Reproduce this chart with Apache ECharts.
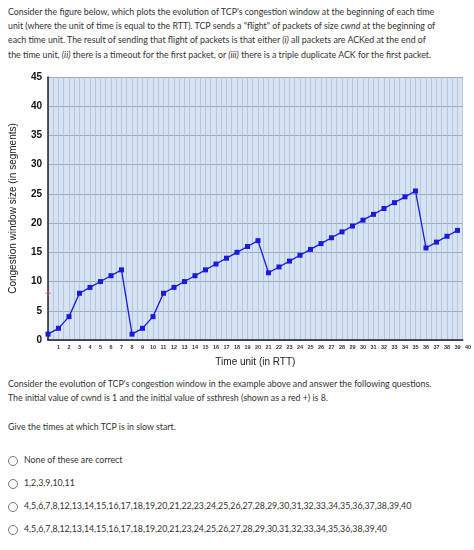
<!DOCTYPE html><html><head><meta charset="utf-8">
<script src="https://cdn.jsdelivr.net/npm/echarts@6/dist/echarts.min.js"></script>
<style>
body{margin:0;width:474px;height:550px;font-family:Lato,sans-serif;color:#333;font-size:8.8px;background:#fff;position:relative;overflow:hidden}
.t{position:absolute;left:8px;line-height:14.2px;white-space:nowrap}
.o{position:absolute;left:8px;white-space:nowrap}
.o span{display:inline-block;width:8px;height:8px;border:1px solid #777;border-radius:50%;vertical-align:middle;margin-right:6px}
#c{position:absolute;left:0;top:70px;width:474px;height:302px}
</style></head><body>
<div class="t" style="top:5px">Consider the figure below, which plots the evolution of TCP's congestion window at the beginning of each time<br>unit (where the unit of time is equal to the RTT). TCP sends a "flight" of packets of size <i>cwnd</i> at the beginning of<br>each time unit. The result of sending that flight of packets is that either <i>(i)</i> all packets are ACKed at the end of<br>the time unit, <i>(ii)</i> there is a timeout for the first packet, or <i>(iii)</i> there is a triple duplicate ACK for the first packet.</div>
<div id="c"></div>
<div class="t" style="top:377px">Consider the evolution of TCP's congestion window in the example above and answer the following questions.<br>The initial value of cwnd is 1 and the initial value of ssthresh (shown as a red +) is 8.</div>
<div class="t" style="top:420px">Give the times at which TCP is in slow start.</div>
<div class="o" style="top:454px"><span></span>None of these are correct</div>
<div class="o" style="top:477px"><span></span>1,2,3,9,10,11</div>
<div class="o" style="top:500px"><span></span>4,5,6,7,8,12,13,14,15,16,17,18,19,20,21,22,23,24,25,26,27,28,29,30,31,32,33,34,35,36,37,38,39,40</div>
<div class="o" style="top:523px"><span></span>4,5,6,7,8,12,13,14,15,16,17,18,19,20,21,23,24,25,26,27,28,29,30,31,32,33,34,35,36,38,39,40</div>
<script>
const times=[1,2,3,4,5,6,7,8,9,10,11,12,13,14,15,16,17,18,19,20,21,22,23,24,25,26,27,28,29,30,31,32,33,34,35,36,37,38,39,40];
const cwnd=[1,2,4,8,9,10,11,12,1,2,4,8,9,10,11,12,13,14,15,16,17,11.5,12.5,13.5,14.5,15.5,16.5,17.5,18.5,19.5,20.5,21.5,22.5,23.5,24.5,25.5,15.75,16.75,17.75,18.75];
const ssthresh=8;
const yTicks=[0,5,10,15,20,25,30,35,40,45];
const c=echarts.init(document.getElementById('c'));
c.setOption({
 animation:false,
 grid:{left:45,right:11,top:7,bottom:30,show:true,backgroundColor:'#d5e3f4',borderWidth:0},
 xAxis:{type:'value',min:0,max:39.5,interval:1,
  name:'Time unit (in RTT)',nameLocation:'middle',nameGap:17,nameTextStyle:{fontSize:10,color:'#222'},
  axisLine:{lineStyle:{color:'#222',width:1.5}},axisTick:{show:false},
  axisLabel:{fontSize:5.5,fontWeight:'bold',color:'#333',margin:4,padding:[0,0,0,21],formatter:v=>String(times[v]),showMaxLabel:false},
  splitLine:{show:true,lineStyle:{color:'#b0bfd1',width:0.8}},
  minorTick:{show:true,splitNumber:2,length:0},minorSplitLine:{show:true,lineStyle:{color:'#b0bfd1',width:0.8}}},
 yAxis:{type:'value',min:0,max:45,interval:5,
  name:'Congestion window size (in segments)',nameLocation:'middle',nameGap:30,nameTextStyle:{fontSize:10,color:'#222'},
  axisLine:{show:true,lineStyle:{color:'#222',width:1.5}},axisTick:{show:false},
  axisLabel:{fontSize:10,fontWeight:'bold',color:'#111',margin:6,formatter:v=>yTicks.includes(v)?String(v):''},
  splitLine:{lineStyle:{color:'#9aabbf',width:1}}},
 series:[{type:'line',data:times.map((t,i)=>[t-1,cwnd[i]]),symbol:'rect',symbolSize:5,
  lineStyle:{color:'#1a1adf',width:1.3},itemStyle:{color:'#1a1adf'}},
  {type:'scatter',data:[[0,ssthresh]],symbol:'path://M4,0H6V4H10V6H6V10H4V6H0V4H4Z',symbolSize:5,itemStyle:{color:'#e04040'},z:1}]
});
</script></body></html>
